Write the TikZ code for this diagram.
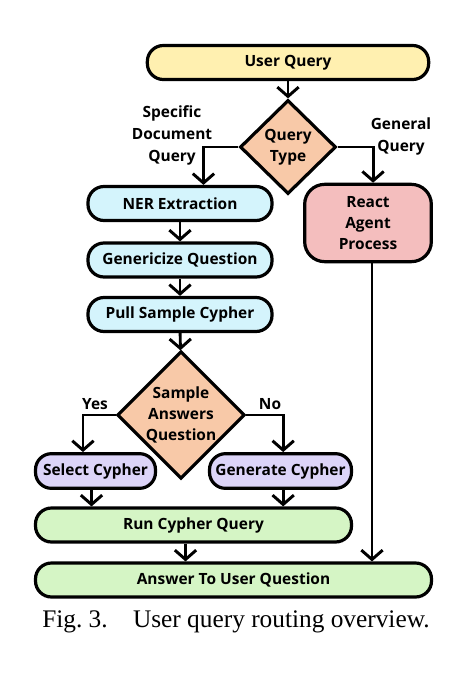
\documentclass[tikz,border=0pt]{standalone}
\usepackage{fontspec}
\setmainfont{Liberation Serif}
\newfontfamily\flowfont{Open Sans}
\usetikzlibrary{shapes.geometric,arrows.meta}
\definecolor{uqyel}{RGB}{255,240,176}
\definecolor{qtpeach}{RGB}{248,201,168}
\definecolor{stepblue}{RGB}{212,244,252}
\definecolor{agentpink}{RGB}{244,190,190}
\definecolor{cyphpurple}{RGB}{220,212,248}
\definecolor{rungreen}{RGB}{213,245,197}

\tikzset{
	pill/.style={draw, line width=2.4pt, rounded corners=12pt, minimum height=25.5pt, inner sep=0pt, align=center, font=\flowfont\bfseries\fontsize{11.6}{16}\selectfont},
	choice/.style={diamond, draw, line width=2.4pt, inner sep=0pt, fill=qtpeach, align=center, font=\flowfont\bfseries\fontsize{11.6}{16}\selectfont},
	flow/.style={line width=2.2pt, -{Straight Barb[length=7pt,width=16pt,line width=2.2pt]}},
	lbl/.style={align=center, inner sep=0pt, font=\flowfont\bfseries\fontsize{11.6}{16.5}\selectfont}
}

\begin{document}
\begin{tikzpicture}[x=0.75pt,y=0.75pt,yscale=-1,xscale=1]
	\useasboundingbox (0,0) rectangle (474,676);

	\node [pill, fill=uqyel, minimum width=211pt] (uq) at (288,62.5) {User Query};
	\node [choice, minimum width=72pt, minimum height=70.5pt] (qt) at (288,147) {Query\\Type};
	\node [pill, fill=stepblue, minimum width=138pt] (ner) at (180,203.5) {NER Extraction};
	\node [pill, fill=stepblue, minimum width=138pt] (gen) at (180,260) {Genericize Question};
	\node [pill, fill=stepblue, minimum width=138pt] (pull) at (180,314.5) {Pull Sample Cypher};
	\node [pill, fill=agentpink, minimum width=95pt, minimum height=58pt, rounded corners=15pt] (react) at (368,223) {React\\Agent\\Process};
	\node [choice, minimum width=94pt, minimum height=94.5pt] (sa) at (181,415) {Sample\\Answers\\Question};
	\node [pill, fill=cyphpurple, minimum width=90pt, minimum height=26pt] (sel) at (95.5,471) {Select Cypher};
	\node [pill, fill=cyphpurple, minimum width=106.5pt, minimum height=26pt] (gc) at (280.5,471) {Generate Cypher};
	\node [pill, fill=rungreen, minimum width=237pt] (run) at (193.5,525) {Run Cypher Query};
	\node [pill, fill=rungreen, minimum width=297pt] (ans) at (233.5,580) {Answer To User Question};

	\node [lbl] (sdq) at (172,135) {Specific\\Document\\Query};
	\node [lbl] (gq) at (401,136) {General\\Query};
	\node [lbl] (yes) at (95,404) {Yes};
	\node [lbl] (no) at (270,404) {No};

	\draw [flow] (uq) -- (qt);
	\draw [flow] (qt.west) -| ([xshift=17.6pt]ner.north);
	\draw [flow] (qt.east) -| ([xshift=3.8pt]react.north);
	\draw [flow] (ner) -- (gen);
	\draw [flow] (gen) -- (pull);
	\draw [flow] (pull) -- (sa);
	\draw [flow] (sa.west) -| ([xshift=-9.4pt]sel.north);
	\draw [flow] (sa.east) -| ([xshift=2pt]gc.north);
	\draw [flow] ([xshift=-3pt]sel.south) -- ([xshift=-3pt]sel.south |- run.north);
	\draw [flow] ([xshift=2pt]gc.south) -- ([xshift=2pt]gc.south |- run.north);
	\draw [flow] ([xshift=-6pt]run.south) -- ([xshift=-6pt]run.south |- ans.north);
	\draw [flow] ([xshift=3pt]react.south) -- ([xshift=3pt]react.south |- ans.north);

	% caption below the chart
	\node [font=\fontsize{19}{23}\selectfont, inner sep=0pt] (cap) at (236,622) {Fig.~3.\quad User query routing overview.};
\end{tikzpicture}
\end{document}
